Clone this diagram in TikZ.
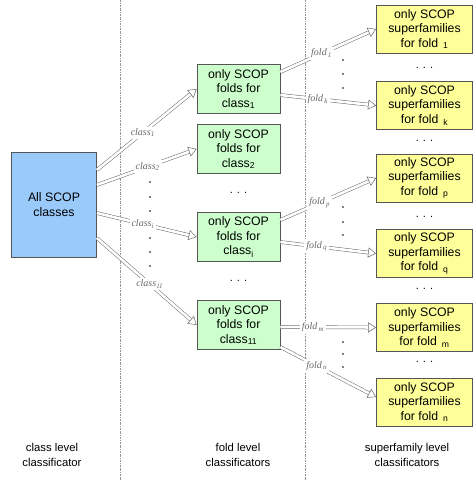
\documentclass[tikz,border=0pt]{standalone}
\usepackage{fontspec}
\setmainfont{Liberation Sans}
\newfontfamily\lblfont{Liberation Serif}
\usetikzlibrary{arrows.meta}
\definecolor{bluebox}{RGB}{153,202,250}
\definecolor{greenbox}{RGB}{204,255,204}
\definecolor{yellowbox}{RGB}{255,255,153}
\definecolor{boxedge}{RGB}{85,85,85}
\definecolor{arrowgray}{RGB}{105,105,105}
\definecolor{sepgray}{RGB}{150,150,150}
\begin{document}
\begin{tikzpicture}[x=1pt,y=-1pt,
  box/.style={draw=boxedge, line width=0.8pt, align=center, inner sep=0pt,
              font=\fontsize{12.3}{14.5}\selectfont},
  classbox/.style={box, fill=bluebox, minimum width=85pt, minimum height=105pt},
  foldbox/.style={box, fill=greenbox, minimum width=83pt, minimum height=49pt},
  famibox/.style={box, fill=yellowbox, minimum width=96pt, minimum height=48pt},
  dbl/.style={draw=arrowgray, line width=0.5pt, double=white, double distance=2.6pt,
              -{Triangle[open, length=8pt, width=10pt, fill=white, line width=0.5pt]}},
  lbl/.style={fill=white, inner sep=2pt, text=arrowgray,
              font=\lblfont\itshape\fontsize{10}{11}\selectfont},
  ellip/.style={font=\fontsize{11}{12}\selectfont, inner sep=0pt},
  bottomlbl/.style={align=center, font=\fontsize{11.3}{15}\selectfont, inner sep=0pt},
  sep/.style={draw=sepgray, line width=0.5pt, dash pattern=on 2pt off 1pt on 0.6pt off 1pt},
  vdot/.style={fill=black}
]
\useasboundingbox (0,0) rectangle (474,481);

% separators
\coordinate (s1t) at (120,0);   \coordinate (s1b) at (120,481);
\coordinate (s2t) at (305,0);   \coordinate (s2b) at (305,481);
\draw[sep] (s1t) -- (s1b);
\draw[sep] (s2t) -- (s2b);

% class level
\node[classbox] (all) at (54,204.5) {All SCOP\\classes};

% fold level
\node[foldbox] (g1)  at (238.5,89)  {only SCOP\\folds for\\class\textsubscript{1}};
\node[foldbox] (g2)  at (238.5,149) {only SCOP\\folds for\\class\textsubscript{2}};
\node[foldbox] (gi)  at (238.5,237) {only SCOP\\folds for\\class\textsubscript{i}};
\node[foldbox] (g11) at (238.5,325) {only SCOP\\folds for\\class\textsubscript{11}};
\node[ellip] (ge1) at (238.5,193) {. . .};
\node[ellip] (ge2) at (238.5,281) {. . .};

% superfamily level
\node[famibox] (y1) at (424.5,29)    {only SCOP\\superfamilies\\for fold \textsubscript{\,1}};
\node[famibox] (yk) at (424.5,105.5) {only SCOP\\superfamilies\\for fold \textsubscript{\,k}};
\node[famibox] (yp) at (424.5,178)   {only SCOP\\superfamilies\\for fold \textsubscript{\,p}};
\node[famibox] (yq) at (424.5,253.5) {only SCOP\\superfamilies\\for fold \textsubscript{\,q}};
\node[famibox] (ym) at (424.5,327.5) {only SCOP\\superfamilies\\for fold \textsubscript{\,m}};
\node[famibox] (yn) at (424.5,402)   {only SCOP\\superfamilies\\for fold \textsubscript{\,n}};
\node[ellip] (ye1) at (424.5,68)  {. . .};
\node[ellip] (ye2) at (424.5,141) {. . .};
\node[ellip] (ye3) at (424.5,217) {. . .};
\node[ellip] (ye4) at (424.5,289) {. . .};
\node[ellip] (ye5) at (424.5,362) {. . .};

% class arrows
\draw[dbl] ([yshift=34.5pt]all.east) -- node[lbl, pos=0.46] (lc1) {class\textsubscript{1}} (g1.west);
\draw[dbl] ([yshift=19.5pt]all.east) -- node[lbl, pos=0.51] (lc2) {class\textsubscript{2}} (g2.west);
\draw[dbl] ([yshift=-8.5pt]all.east) -- node[lbl, pos=0.46] (lci) {class\textsubscript{i}} (gi.west);
\draw[dbl] ([yshift=-33.5pt]all.east) -- node[lbl, pos=0.53] (lc11) {class\textsubscript{11}} (g11.west);

% fold arrows
\draw[dbl] ([yshift=17pt]g1.east) -- node[lbl, pos=0.43] (lf1) {fold\textsubscript{\,1}} (y1.west);
\draw[dbl] ([yshift=-6pt]g1.east) -- node[lbl, pos=0.39] (lfk) {fold\textsubscript{\,k}} (yk.west);
\draw[dbl] ([yshift=17pt]gi.east) -- node[lbl, pos=0.41] (lfp) {fold\textsubscript{\,p}} (yp.west);
\draw[dbl] ([yshift=-5pt]gi.east) -- node[lbl, pos=0.38] (lfq) {fold\textsubscript{\,q}} (yq.west);
\draw[dbl] ([yshift=-2pt]g11.east) -- node[lbl, pos=0.34] (lfm) {fold\textsubscript{\,m}} (ym.west);
\draw[dbl] ([yshift=-22pt]g11.east) -- node[lbl, pos=0.38] (lfn) {fold\textsubscript{\,n}} ([yshift=5pt]yn.west);

% vertical dots
\foreach \yy in {182,197,211,238,252,266} \fill[vdot] (150,\yy) circle (0.9pt);
\foreach \yy in {60,74,88,207,222,235,342,354,367} \fill[vdot] (343,\yy) circle (0.9pt);

% bottom labels
\node[bottomlbl] (b1) at (52,455)  {class level\\classificator};
\node[bottomlbl] (b2) at (238,455) {fold level\\classificators};
\node[bottomlbl] (b3) at (407,455) {superfamily level\\classificators};
\end{tikzpicture}
\end{document}
